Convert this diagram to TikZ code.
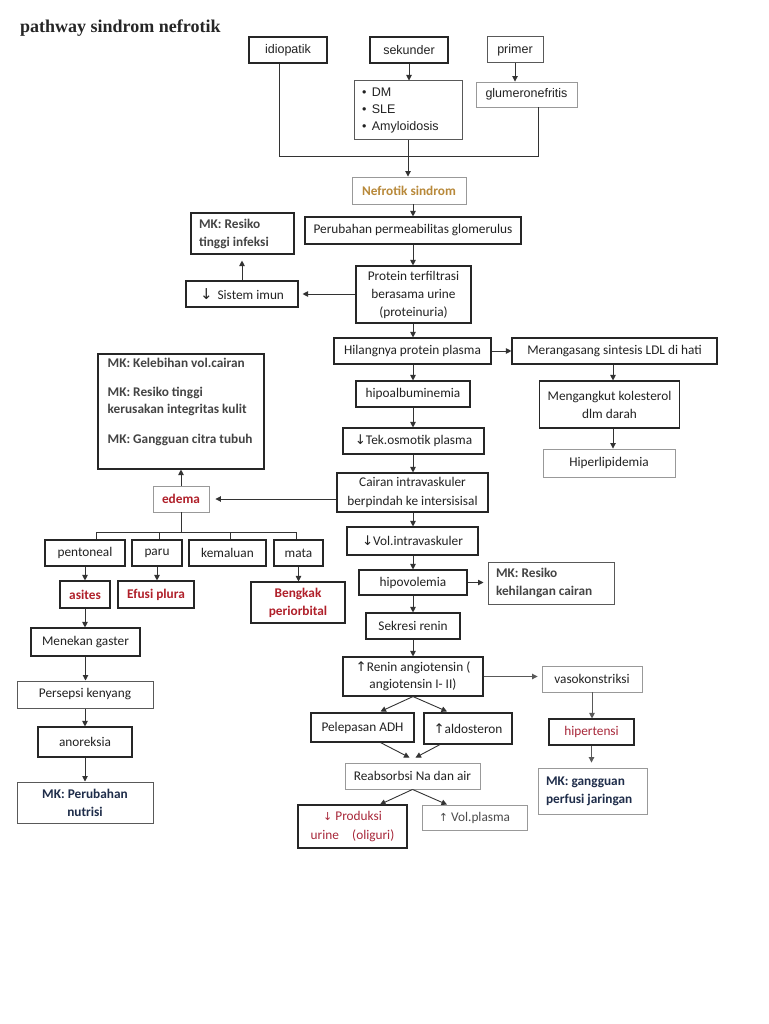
\documentclass[tikz,border=0pt]{standalone}
\usepackage{fontspec}
\setmainfont{Carlito}
\newfontfamily\arialf{Liberation Sans}
\newfontfamily\timesf{Liberation Serif}
\newfontfamily\djv{DejaVu Sans}
\usetikzlibrary{arrows.meta,calc}
\definecolor{ink}{HTML}{222222}
\definecolor{mkgray}{HTML}{444444}
\definecolor{mknavy}{HTML}{1F2D4A}
\definecolor{redb}{HTML}{B0202A}
\definecolor{redn}{HTML}{A8283A}
\definecolor{gold}{HTML}{B8893A}
\newcommand\ar[1]{{\djv #1}}
\newcommand\boxat[7][]{\node[bxs,minimum width={(#5)-(#3)},minimum height={(#6)-(#4)},#1] (#2) at ({((#3)+(#5))/2},{((#4)+(#6))/2}) {#7};}
\tikzset{
  bxs/.style={draw=black!85, line width=1.1pt, inner xsep=8pt, inner ysep=2pt, align=center,
    font=\fontsize{13.3}{17}\selectfont, text=ink},
  gbx/.style={draw=black!40, line width=0.9pt},
  mbx/.style={draw=black!65, line width=1pt},
  arf/.style={font=\arialf\fontsize{12.5}{17}\selectfont},
  mkg/.style={font=\bfseries\fontsize{13.3}{18}\selectfont, text=mkgray},
  mkn/.style={font=\bfseries\fontsize{13.3}{18}\selectfont, text=mknavy},
  redbold/.style={font=\bfseries\fontsize{13.3}{18}\selectfont, text=redb},
  arr/.style={draw=black!80, line width=0.9pt, -{Triangle[length=5.5pt,width=5.5pt]}},
  ln/.style={draw=black!80, line width=0.9pt},
}
\begin{document}
\begin{tikzpicture}[x=1pt,y=-1pt]
\useasboundingbox (0,0) rectangle (768,1024);
\fill[white] (0,0) rectangle (768,1024);
% title
\node[anchor=base west, inner sep=0, font=\timesf\bfseries\fontsize{18}{20}\selectfont, text=black!85] (title) at (20,33) {pathway sindrom nefrotik};
% top
\boxat[arf]{idio}{249}{37}{327}{63}{idiopatik}
\boxat[arf]{seku}{370}{37}{448}{63}{sekunder}
\boxat[arf,mbx]{prim}{487}{37}{543}{63}{primer}
\boxat[arf,mbx,align=flush left,text width=92pt]{list}{354}{81}{462}{140}{\textbullet\hspace{5.5pt}DM\\ \textbullet\hspace{5.5pt}SLE\\ \textbullet\hspace{5.5pt}Amyloidosis}
\boxat[arf,gbx]{glum}{476}{82}{577}{107}{glumeronefritis}
\boxat[gbx,font=\bfseries\fontsize{13.3}{17}\selectfont,text=gold]{nef}{352}{177}{466}{204}{Nefrotik sindrom}
\boxat{perm}{305}{217}{521}{244}{Perubahan permeabilitas glomerulus}
\boxat[font=\fontsize{13.3}{18}\selectfont]{prot}{356}{266}{471}{323}{Protein terfiltrasi\\berasama urine\\(proteinuria)}
\boxat{imun}{186}{281}{298}{307}{{\djv\fontsize{15}{17}\selectfont ↓}\hspace{5pt}Sistem imun}
\boxat[mkg,align=flush left,text width=87pt]{mkinf}{191}{213}{294}{254}{MK: Resiko\\tinggi infeksi}
\boxat{hil}{334}{338}{491}{364}{Hilangnya protein plasma}
\boxat{ldl}{512}{338}{717}{364}{Merangasang sintesis LDL di hati}
\boxat[font=\fontsize{13.3}{18}\selectfont]{kol}{542}{381}{677}{428}{Mengangkut kolesterol\\dlm darah}
\boxat[gbx]{lip}{543}{449}{675}{477}{Hiperlipidemia}
\boxat{alb}{356}{381}{470}{407}{hipoalbuminemia}
\boxat{tek}{343}{428}{484}{454}{\ar{↓}Tek.osmotik plasma}
\boxat[font=\fontsize{13.3}{19}\selectfont]{cair}{337}{473}{488}{512}{Cairan intravaskuler\\berpindah ke intersisisal}
\boxat[gbx,redbold]{edema}{153}{486}{209}{512}{edema}
\boxat{mkc}{98}{354}{264}{469}{}
\node[anchor=north west, inner sep=0, align=left, mkg, font=\bfseries\fontsize{13.3}{17}\selectfont] (mkctext) at ([xshift=10pt,yshift=-5pt]mkc.north west) {MK: Kelebihan vol.cairan\\[12pt]MK: Resiko tinggi\\kerusakan integritas kulit\\[13pt]MK: Gangguan citra tubuh};
% edema branches
\boxat{pent}{45}{540}{125}{566}{pentoneal}
\boxat{paru}{132}{540}{182}{566}{paru}
\boxat{kem}{189}{540}{266}{566}{kemaluan}
\boxat{mata}{274}{540}{323}{566}{mata}
\boxat[redbold]{asit}{60}{581}{110}{608}{asites}
\boxat[redbold]{efus}{118}{581}{194}{608}{Efusi plura}
\boxat[redbold]{beng}{251}{582}{345}{623}{Bengkak\\periorbital}
\boxat{gast}{31}{628}{140}{656}{Menekan gaster}
\boxat[mbx]{keny}{17}{681}{153}{708}{Persepsi kenyang}
\boxat{anor}{38}{727}{132}{757}{anoreksia}
\boxat[mbx,mkn]{mknut}{17}{782}{153}{823}{MK: Perubahan\\nutrisi}
% lower main chain
\boxat{vol}{347}{527}{478}{555}{\ar{↓}Vol.intravaskuler}
\boxat{hipo}{359}{570}{467}{595}{hipovolemia}
\boxat[mbx,mkg,align=flush left,text width=110pt]{mkhil}{488}{562}{614}{604}{MK: Resiko\\kehilangan cairan}
\boxat{ren}{366}{613}{460}{639}{Sekresi renin}
\boxat{ang}{343}{657}{483}{696}{\ar{↑}Renin angiotensin (\\angiotensin I- II)}
\boxat[gbx]{vaso}{542}{666}{642}{692}{vasokonstriksi}
\boxat[text=redn]{hip}{549}{719}{634}{745}{hipertensi}
\boxat[gbx,mkn,align=flush left,text width=93pt]{mkper}{538}{768}{647}{814}{MK: gangguan\\perfusi jaringan}
\boxat{adh}{311}{713}{414}{742}{Pelepasan ADH}
\boxat{ald}{424}{713}{512}{744}{\ar{↑}aldosteron}
\boxat[gbx]{reab}{345}{763}{480}{789}{Reabsorbsi Na dan air}
\boxat[text=redn,font=\fontsize{13.3}{19}\selectfont]{prod}{298}{805}{407}{848}{{\djv\fontsize{11}{19}\selectfont ↓} Produksi\\urine\quad(oliguri)}
\boxat[gbx,text=black!70]{vpl}{422}{805}{527}{830}{{\djv\fontsize{11}{19}\selectfont ↑} Vol.plasma}
% connectors top
\coordinate (jl) at (279,156);
\coordinate (jr) at (538,156);
\coordinate (col) at (413,0);
\coordinate (rc) at (613,0);
\draw[ln] (idio.south -| jl) -- (jl) -- (jr) -- (glum.south -| jr);
\draw[arr] (seku.south) -- (seku.south |- list.north);
\draw[arr] (prim.south) -- (prim.south |- glum.north);
\draw[arr] (list.south) -- (list.south |- nef.north);
\draw[arr] (nef.south -| col) -- (perm.north -| col);
\draw[arr] (perm.south -| col) -- (prot.north -| col);
\draw[arr] (prot.south -| col) -- (hil.north -| col);
\draw[arr, shorten >=4pt] (prot.west |- imun.east) -- (imun.east);
\draw[arr, shorten >=6pt] (imun.north) -- (imun.north |- mkinf.south);
\draw[arr] (hil.east) -- (hil.east -| ldl.west);
\draw[arr] (ldl.south -| rc) -- (kol.north -| rc);
\draw[arr] (kol.south -| rc) -- (lip.north -| rc);
\draw[arr] (hil.south -| col) -- (alb.north -| col);
\draw[arr] (alb.south -| col) -- (tek.north -| col);
\draw[arr] (tek.south -| col) -- (cair.north -| col);
\draw[arr, shorten >=6pt] (edema.east -| cair.west) -- (edema.east);
\draw[arr] (edema.north) -- (edema.north |- mkc.south);
% edema bus
\coordinate (bus) at (181,532);
\coordinate (t1) at (96,532);
\coordinate (t2) at (159,532);
\coordinate (t3) at (230,532);
\coordinate (t4) at (296,532);
\draw[ln] (edema.south) -- (bus);
\draw[ln] (pent.north -| t1) -- (t1) -- (t4) -- (mata.north -| t4);
\draw[ln] (t2) -- (paru.north -| t2);
\draw[ln] (t3) -- (kem.north -| t3);
\draw[arr] (pent.south) -- (pent.south |- asit.north);
\draw[arr] (paru.south) -- (paru.south |- efus.north);
\draw[arr] (mata.south) -- (mata.south |- beng.north);
\draw[arr] (asit.south) -- (asit.south |- gast.north);
\draw[arr] (gast.south) -- (gast.south |- keny.north);
\draw[arr] (keny.south) -- (keny.south |- anor.north);
\draw[arr] (anor.south) -- (anor.south |- mknut.north);
% lower chain
\draw[arr] (cair.south -| col) -- (vol.north -| col);
\draw[arr] (vol.south -| col) -- (hipo.north -| col);
\draw[arr] (hipo.south -| col) -- (ren.north -| col);
\draw[arr] (ren.south -| col) -- (ang.north -| col);
\draw[arr, shorten >=4pt] (hipo.east) -- (hipo.east -| mkhil.west);
\draw[arr, shorten >=4pt, draw=black!65] (ang.east) -- (ang.east -| vaso.west);
\draw[arr, draw=black!65] (vaso.south) -- (vaso.south |- hip.north);
\draw[arr, draw=black!65, shorten >=5pt] (hip.south) -- (hip.south |- mkper.north);
\draw[arr] (ang.south) -- ([xshift=18pt,yshift=1pt]adh.north);
\draw[arr] (ang.south) -- ([xshift=-21pt,yshift=1pt]ald.north);
\draw[arr] ([xshift=18pt]adh.south) -- ([xshift=-3pt,yshift=5pt]reab.north);
\draw[arr] ([xshift=-28pt]ald.south) -- ([xshift=3pt,yshift=5pt]reab.north);
\draw[arr] (reab.south) -- ([xshift=27.5pt]prod.north);
\draw[arr] (reab.south) -- ([xshift=-27.5pt]vpl.north);
\end{tikzpicture}
\end{document}
